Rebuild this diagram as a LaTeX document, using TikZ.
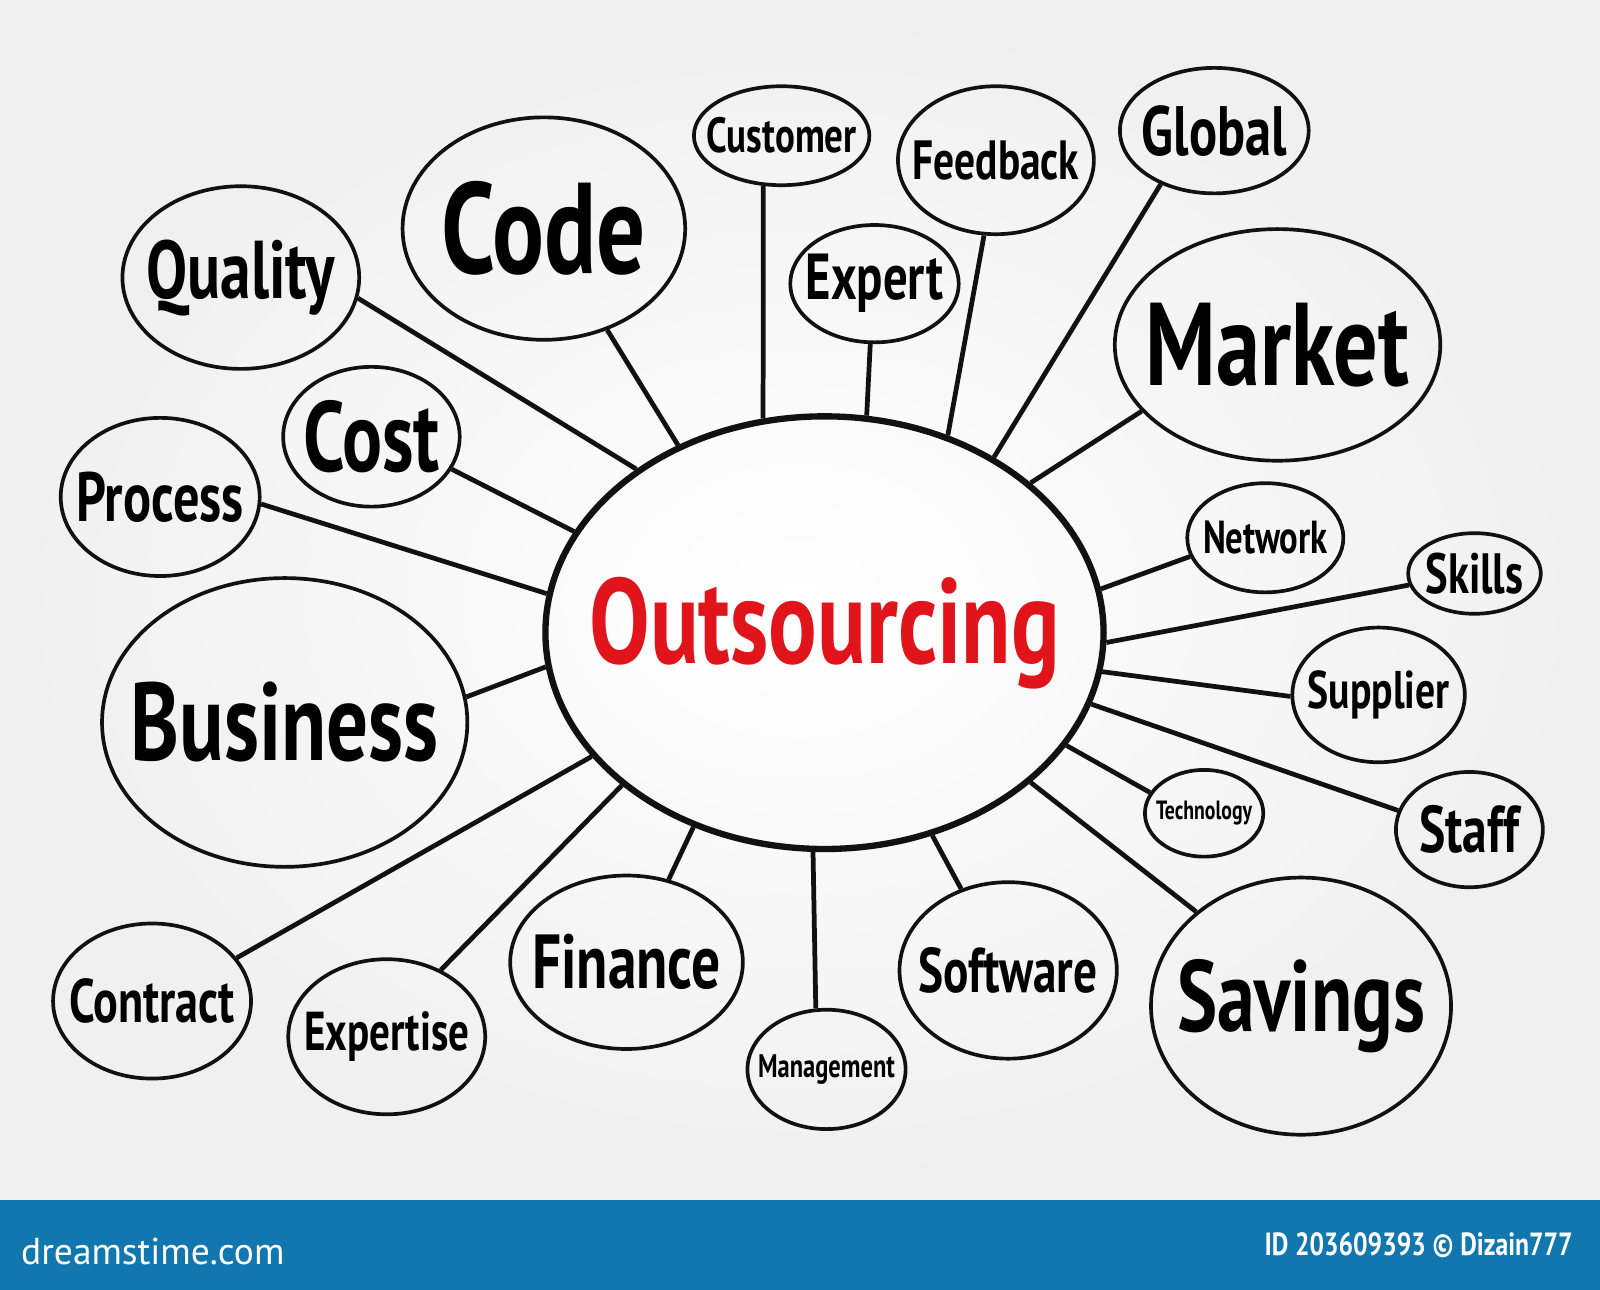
\documentclass[tikz,border=0pt]{standalone}
\usepackage{fontspec}
\setmainfont{PT Sans}
\usepackage{graphicx}
\usetikzlibrary{shapes.geometric}

\definecolor{ink}{HTML}{111111}
\definecolor{redtxt}{HTML}{E0141A}
\definecolor{band}{HTML}{1177AE}

\newlength{\pxu}
\setlength{\pxu}{0.010204cm}
\newcommand{\word}[2]{\makebox[0pt]{\resizebox{#1\pxu}{!}{\scalebox{0.75}[1]{\bfseries #2}}}}

\tikzset{
  bubble/.style 2 args={ellipse, draw=ink, line width=1.05pt, inner sep=0pt,
                        minimum width=#1*\pxu, minimum height=#2*\pxu},
  hubstyle/.style={ellipse, draw=ink, line width=1.8pt, inner sep=0pt, text=redtxt,
                   minimum width=547*\pxu, minimum height=424*\pxu},
  link/.style={draw=ink, line width=1.35pt}
}

\begin{document}
\begin{tikzpicture}[x=0.010204cm, y=-0.010204cm]
    \useasboundingbox (0,0) rectangle (1568,1264);
    \shade[inner color=white, outer color=black!6] (0,0) rectangle (1568,1176);
    \fill[band] (0,1176) rectangle (1568,1264);
    \node[text=white, anchor=west, inner sep=0pt] (site) at (20,1226) {\resizebox{258\pxu}{!}{dreamstime.com}};
    \node[text=white, anchor=east, inner sep=0pt] (imgid) at (1542,1220) {\resizebox{302\pxu}{!}{\scalebox{0.8}[1]{\bfseries ID 203609393 © Dizain777}}};

    \node[hubstyle] (hub) at (808,620) {\word{461}{Outsourcing}};

    \node[bubble={232}{179}] (quality) at (236,272) {\word{185}{Quality}};
    \node[bubble={277}{218}] (code) at (533,224) {\word{200}{Code}};
    \node[bubble={172}{97}] (customer) at (766,133) {\word{147}{Customer}};
    \node[bubble={192}{145}] (feedback) at (976,157) {\word{163}{Feedback}};
    \node[bubble={185}{123}] (global) at (1190,128) {\word{142}{Global}};
    \node[bubble={165}{115}] (expert) at (857,278) {\word{135}{Expert}};
    \node[bubble={319}{227}] (market) at (1252,338) {\word{258}{Market}};
    \node[bubble={173}{137}] (cost) at (364,428) {\word{134}{Cost}};
    \node[bubble={195}{155}] (process) at (157,487) {\word{164}{Process}};
    \node[bubble={358}{283}] (business) at (279,708) {\word{302}{Business}};
    \node[bubble={153}{107}] (network) at (1240,527) {\word{122}{Network}};
    \node[bubble={130}{79}] (skills) at (1445,562) {\word{96}{Skills}};
    \node[bubble={169}{132}] (supplier) at (1351,681) {\word{139}{Supplier}};
    \node[bubble={116}{85}] (technology) at (1180,797) {\word{94}{Technology}};
    \node[bubble={144}{113}] (staff) at (1440,813) {\word{98}{Staff}};
    \node[bubble={194}{152}] (contract) at (149,981) {\word{162}{Contract}};
    \node[bubble={193}{152}] (expertise) at (379,1016) {\word{162}{Expertise}};
    \node[bubble={228}{170}] (finance) at (614,943) {\word{185}{Finance}};
    \node[bubble={155}{117}] (management) at (810,1048) {\word{134}{Management}};
    \node[bubble={213}{173}] (software) at (988,951) {\word{175}{Software}};
    \node[bubble={294}{252}] (savings) at (1275,986) {\word{243}{Savings}};

    % spokes
    \draw[link] (hub.139) -- (quality.350);
    \draw[link] (hub.128) -- (code.302);
    \draw[link] (hub.106) -- (customer.250);
    \draw[link] (hub.79) -- (expert.266);
    \draw[link] (hub.58) -- (feedback.261);
    \draw[link] (hub.46) -- (global.225);
    \draw[link] (hub.36) -- (market.206);
    \draw[link] (hub.158) -- (cost.338);
    \draw[link] (hub.172) -- (process.356);
    \draw[link] (hub.187) -- (business.8);
    \draw[link] (hub.208) -- (contract.27);
    \draw[link] (hub.217) -- (expertise.51);
    \draw[link] (hub.236) -- (finance.63);
    \draw[link] (hub.267) -- (management.100);
    \draw[link] (hub.298) -- (software.120);
    \draw[link] (hub.324) -- (savings.138);
    \draw[link] (hub.335) -- (technology.159);
    \draw[link] (hub.345) -- (staff.165);
    \draw[link] (hub.352) -- (supplier.181);
    \draw[link] (hub.358) -- (skills.190);
    \draw[link] (hub.9) -- (network.194);
\end{tikzpicture}
\end{document}
